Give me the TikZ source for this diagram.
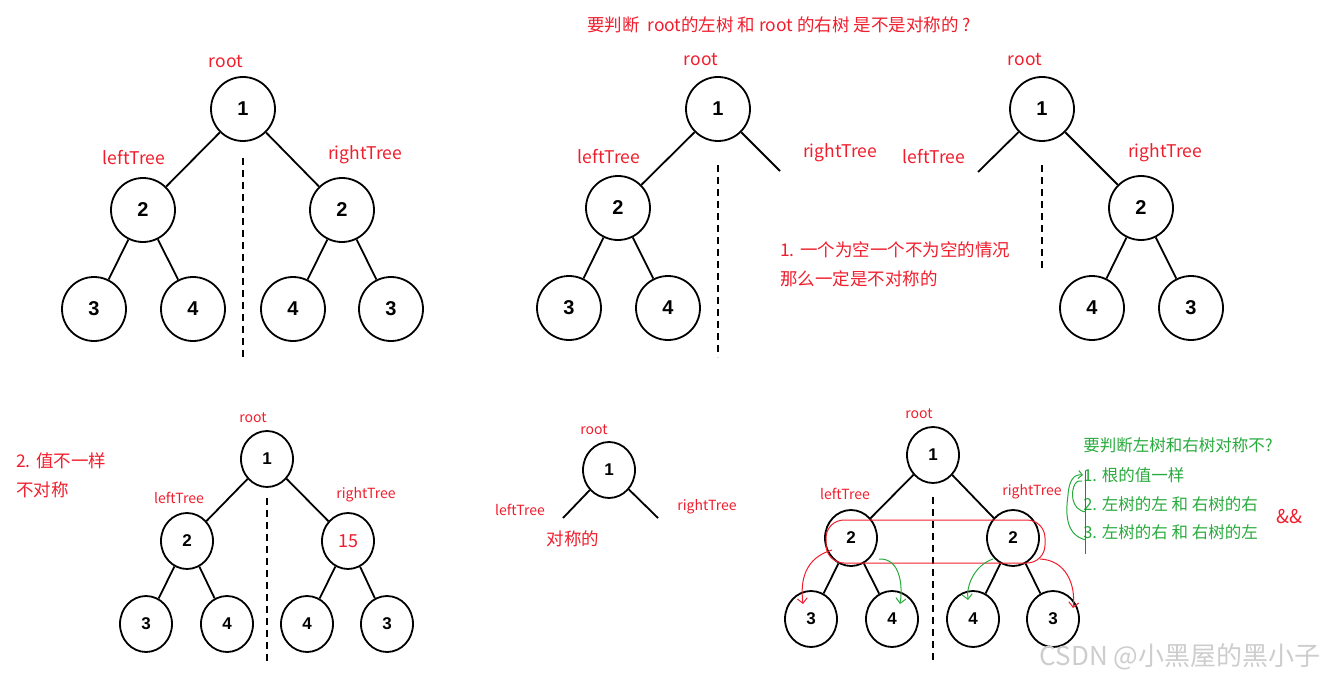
\documentclass[tikz,border=0pt]{standalone}
\usepackage{fontspec}
\setmainfont{Noto Sans CJK SC}
\newfontfamily\numfont{Liberation Sans}
\usepackage{xcolor}
\usepackage{tikz}
\usetikzlibrary{arrows.meta,shapes.geometric}
\definecolor{markred}{RGB}{240,30,45}
\definecolor{markgreen}{RGB}{40,170,60}
\definecolor{wmgray}{RGB}{205,205,205}

\begin{document}
\begin{tikzpicture}[x=1pt, y=-1pt, line width=1.8pt, big/.style={draw,circle,minimum size=64pt,inner sep=0pt,font=\numfont\bfseries\fontsize{20}{20}\selectfont}, small/.style={draw,ellipse,minimum width=52pt,minimum height=56pt,inner sep=0pt,font=\numfont\bfseries\fontsize{17}{17}\selectfont}, lab/.style={text=markred,font=\fontsize{17.5}{17.5}\selectfont}, slab/.style={text=markred,font=\fontsize{14}{14}\selectfont}, note/.style={text=markgreen,anchor=west,font=\fontsize{16.5}{16.5}\selectfont}, mid/.style={dashed,dash pattern=on 7pt off 5pt}, hand/.style={line width=1pt}]
\useasboundingbox (0,0) rectangle (1321,679);
% title
\node[lab] (title) at (779,25) {要判断~~root的左树 和 root 的右树 是不是对称的 ?};
% tree 1
\node[big] (a1) at (243,109) {1};
\node[big] (a2) at (143,210) {2};
\node[big] (a3) at (342,210) {2};
\node[big] (a4) at (94,309) {3};
\node[big] (a5) at (193,309) {4};
\node[big] (a6) at (293,309) {4};
\node[big] (a7) at (391,309) {3};
\node[lab] (aroot) at (226,62) {root};
\node[lab] (aleft) at (134,158) {leftTree};
\node[lab] (aright) at (365,155) {rightTree};
\coordinate (atop) at (243,158);
\coordinate (abot) at (243,357);
\draw (a1) -- (a2);
\draw (a1) -- (a3);
\draw (a2) -- (a4);
\draw (a2) -- (a5);
\draw (a3) -- (a6);
\draw (a3) -- (a7);
\draw[mid] (atop) -- (abot);
% tree 2
\node[big] (b1) at (718,109) {1};
\node[big] (b2) at (618,208) {2};
\node[big] (b4) at (569,308) {3};
\node[big] (b5) at (668,308) {4};
\node[lab] (broot) at (701,60) {root};
\node[lab] (bleft) at (609,157) {leftTree};
\node[lab] (bright) at (840,153) {rightTree};
\coordinate (bend) at (780,171);
\coordinate (btop) at (718,165);
\coordinate (bbot) at (718,357);
\draw (b1) -- (b2);
\draw (b1) -- (bend);
\draw (b2) -- (b4);
\draw (b2) -- (b5);
\draw[mid] (btop) -- (bbot);
\node[lab, anchor=west] (case1) at (776,250) {1. 一个为空一个不为空的情况};
\node[lab, anchor=west] (case1b) at (776,279) {那么一定是不对称的};
% tree 3
\node[big] (c1) at (1042,109) {1};
\node[big] (c3) at (1141,208) {2};
\node[big] (c6) at (1092,308) {4};
\node[big] (c7) at (1191,308) {3};
\node[lab] (croot) at (1025,60) {root};
\node[lab] (cleft) at (934,157) {leftTree};
\node[lab] (cright) at (1165,153) {rightTree};
\coordinate (cend) at (978,172);
\coordinate (ctop) at (1042,165);
\coordinate (cbot) at (1042,270);
\draw (c1) -- (cend);
\draw (c1) -- (c3);
\draw (c3) -- (c6);
\draw (c3) -- (c7);
\draw[mid] (ctop) -- (cbot);
% tree 4
\node[small] (d1) at (267,459) {1};
\node[small] (d2) at (187,541) {2};
\node[small, text=markred, font=\fontsize{18}{18}\selectfont] (d3) at (348,541) {15};
\node[small] (d4) at (146,624) {3};
\node[small] (d5) at (227,624) {4};
\node[small] (d6) at (307,624) {4};
\node[small] (d7) at (387,624) {3};
\node[slab] (droot) at (253,418) {root};
\node[slab] (dleft) at (179,498) {leftTree};
\node[slab] (dright) at (366,495) {rightTree};
\coordinate (dtop) at (267,498);
\coordinate (dbot) at (267,665);
\draw (d1) -- (d2);
\draw (d1) -- (d3);
\draw (d2) -- (d4);
\draw (d2) -- (d5);
\draw (d3) -- (d6);
\draw (d3) -- (d7);
\draw[mid] (dtop) -- (dbot);
\node[lab, anchor=west] (case2) at (12,461) {2. 值不一样};
\node[lab, anchor=west] (case2b) at (12,490) {不对称};
% tree 5
\node[small] (e1) at (609,470) {1};
\node[slab] (eroot) at (594,430) {root};
\node[slab] (eleft) at (520,510) {leftTree};
\node[slab] (eright) at (707,507) {rightTree};
\coordinate (el) at (563,518);
\coordinate (er) at (658,518);
\draw (e1) -- (el);
\draw (e1) -- (er);
\node[lab] (same) at (573,539) {对称的};
% tree 6
\node[small] (f1) at (933,455) {1};
\node[small] (f2) at (851,538) {2};
\node[small] (f3) at (1013,538) {2};
\node[small] (f4) at (811,619) {3};
\node[small] (f5) at (892,619) {4};
\node[small] (f6) at (973,619) {4};
\node[small] (f7) at (1053,619) {3};
\node[slab] (froot) at (919,414) {root};
\node[slab] (fleft) at (845,494) {leftTree};
\node[slab] (fright) at (1032,492) {rightTree};
\coordinate (ftop) at (933,497);
\coordinate (fbot) at (933,660);
\draw (f1) -- (f2);
\draw (f1) -- (f3);
\draw (f2) -- (f4);
\draw (f2) -- (f5);
\draw (f3) -- (f6);
\draw (f3) -- (f7);
\draw[mid] (ftop) -- (fbot);
% hand marks
\draw[hand, markred, rounded corners=18pt] (826,520) rectangle (1045,563);
\draw[hand, markred, -{Straight Barb[length=5pt]}] (832,550) .. controls (805,558) and (800,580) .. (803,604);
\draw[hand, markred, -{Straight Barb[length=5pt]}] (1040,559) .. controls (1066,560) and (1076,585) .. (1073,608);
\draw[hand, markgreen, -{Straight Barb[length=5pt]}] (879,559) .. controls (900,558) and (903,585) .. (900,604);
\draw[hand, markgreen, -{Straight Barb[length=5pt]}] (993,559) .. controls (975,565) and (966,585) .. (968,600);
\node[note] (q) at (1079,445) {要判断左树和右树对称不?};
\node[note] (r1) at (1079,475) {1. 根的值一样};
\node[note] (r2) at (1079,504) {2. 左树的左 和 右树的右};
\node[note] (r3) at (1079,532) {3. 左树的右 和 右树的左};
\node[lab, font=\fontsize{19}{19}\selectfont] (and) at (1289,517) {\&\&};
\draw[hand, markred] (1085,471) -- (1085,554);
\draw[hand, markgreen, -{Straight Barb[length=4pt]}] (1086,540) .. controls (1064,535) and (1066,510) .. (1068,495) .. controls (1069,480) and (1074,474) .. (1083,475);
\draw[hand, markgreen] (1086,512) .. controls (1070,510) and (1071,490) .. (1075,484) .. controls (1077,481) and (1080,480) .. (1082,481);
% watermark
\node[text=wmgray, font=\fontsize{26}{26}\selectfont] (wm) at (1180,657) {CSDN @小黑屋的黑小子};
\end{tikzpicture}
\end{document}
